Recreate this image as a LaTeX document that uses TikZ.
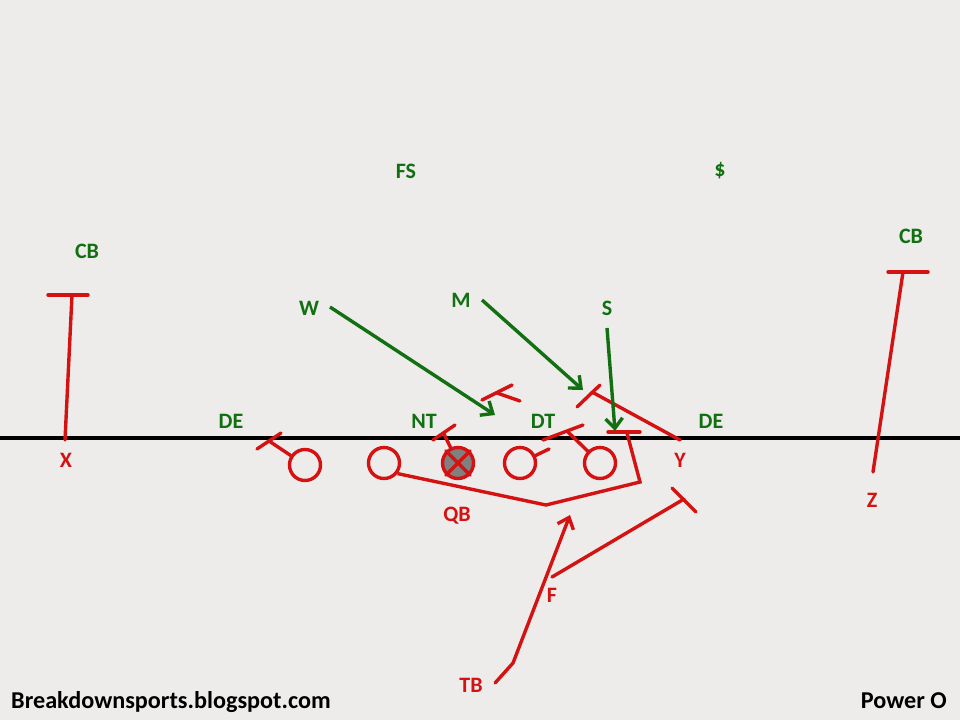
\documentclass[tikz,border=0pt]{standalone}
\usepackage{fontspec}
\setmainfont{Carlito}
\usetikzlibrary{arrows.meta}
\definecolor{bg}{RGB}{237,236,234}
\definecolor{pred}{RGB}{212,18,18}
\definecolor{dgreen}{RGB}{18,112,18}
\definecolor{cfill}{RGB}{128,128,128}
\begin{document}
\begin{tikzpicture}[x=1pt,y=-1pt,
  lbl/.style={font=\bfseries\fontsize{22}{23}\selectfont, inner sep=0pt},
  offl/.style={lbl, text=pred},
  defl/.style={lbl, text=dgreen},
  foot/.style={font=\bfseries\fontsize{24.2}{25}\selectfont, inner sep=0pt, anchor=base west, text=black},
  lineman/.style={circle, draw=pred, line width=3.4pt, minimum size=31pt, inner sep=0pt},
  route/.style={draw=pred, line width=3.4pt, line cap=round},
  redarrow/.style={route, -{Straight Barb[length=10pt,width=17pt,line width=3.4pt]}},
  greenarrow/.style={draw=dgreen, line width=3.4pt, -{Straight Barb[length=10pt,width=17pt,line width=3.4pt]}},
  los/.style={draw=black, line width=3.8pt}
]
\fill[bg] (0,0) rectangle (960,720);
\useasboundingbox (0,0) rectangle (960,720);

% line of scrimmage
\coordinate (losL) at (0,438);
\coordinate (losR) at (960,438);
\draw[los] (losL) -- (losR);

% offensive line
\node[lineman] (LT) at (305,465) {};
\node[lineman] (LG) at (384,463) {};
\node[lineman, fill=cfill] (C) at (458,463) {};
\node[lineman] (RG) at (520,463) {};
\node[lineman] (RT) at (600,463) {};
\draw[route] (C.north west) -- (C.south east);
\draw[route] (C.north east) -- (C.south west);

% defense labels
\node[defl] (FS) at (406,171) {FS};
\node[defl] (SS) at (720,171) {\$};
\node[defl] (CBL) at (87,251) {CB};
\node[defl] (CBR) at (911,236) {CB};
\node[defl] (W) at (309,308) {W};
\node[defl] (M) at (461,300) {M};
\node[defl] (S) at (607,308) {S};
\node[defl] (DEL) at (231,421) {DE};
\node[defl] (NT) at (424,421) {NT};
\node[defl] (DT) at (543,421) {DT};
\node[defl] (DER) at (711,421) {DE};

% offense labels
\node[offl] (X) at (66,460) {X};
\node[offl] (Y) at (680,460) {Y};
\node[offl] (QB) at (457,516) {QB};
\node[offl] (Z) at (872,500) {Z};
\node[offl] (F) at (552,595) {F};
\node[offl] (TB) at (471,685) {TB};

% footer
\node[foot] (site) at (11,708) {Breakdownsports.blogspot.com};
\node[foot, anchor=base east] (play) at (947,708) {Power O};

% LT block
\coordinate (ltB) at (269,441);
\coordinate (ltB1) at (257,449);
\coordinate (ltB2) at (281,433);
\draw[route] (LT) -- (ltB);
\draw[route] (ltB1) -- (ltB2);

% LG pull
\coordinate (p1) at (546,505);
\coordinate (p2) at (640,482);
\coordinate (pT) at (627,433);
\coordinate (pB1) at (608,432);
\coordinate (pB2) at (640,432);
\draw[route, line cap=butt] (LG.-38) -- (p1) -- (p2) -- (pT);
\draw[route] (pB1) -- (pB2);

% center block
\coordinate (cB) at (444,434);
\coordinate (cB1) at (433,440);
\coordinate (cB2) at (455,425);
\draw[route] (C) -- (cB);
\draw[route] (cB1) -- (cB2);

% RG stub and second level
\coordinate (rgS) at (549,449);
\draw[route] (RG) -- (rgS);
\coordinate (g2a) at (520,401);
\coordinate (g2b) at (497,393);
\coordinate (g2B1) at (482,400);
\coordinate (g2B2) at (512,385);
\draw[route] (g2a) -- (g2b);
\draw[route] (g2B1) -- (g2B2);

% RT block
\coordinate (rtB) at (568,432);
\coordinate (rtB1) at (543,440);
\coordinate (rtB2) at (583,425);
\draw[route] (RT) -- (rtB);
\draw[route] (rtB1) -- (rtB2);

% Y block
\coordinate (yS) at (680,440);
\coordinate (yB) at (592,392);
\coordinate (yB1) at (577,407);
\coordinate (yB2) at (600,385);
\draw[route] (yS) -- (yB);
\draw[route] (yB1) -- (yB2);

% X route
\coordinate (xS) at (65,440);
\coordinate (xT) at (72,295);
\coordinate (xB1) at (48,295);
\coordinate (xB2) at (88,295);
\draw[route] (xS) -- (xT);
\draw[route] (xB1) -- (xB2);

% Z route
\coordinate (zS) at (873,472);
\coordinate (zT) at (903,272);
\coordinate (zB1) at (888,272);
\coordinate (zB2) at (928,272);
\draw[route] (zS) -- (zT);
\draw[route] (zB1) -- (zB2);

% F block
\coordinate (fS) at (552,577);
\coordinate (fT) at (684,499);
\coordinate (fB1) at (672,488);
\coordinate (fB2) at (696,512);
\draw[route] (fS) -- (fT);
\draw[route] (fB1) -- (fB2);

% TB run
\coordinate (tbS) at (495,683);
\coordinate (tbK) at (513,663);
\coordinate (tbE) at (570,515);
\draw[redarrow] (tbS) -- (tbK) -- (tbE);

% linebacker arrows
\coordinate (wE) at (495,415);
\coordinate (mE) at (583,390);
\coordinate (sE) at (615,431);
\draw[greenarrow] (330,307) coordinate (wS) -- (wE);
\draw[greenarrow] (482,300) coordinate (mS) -- (mE);
\draw[greenarrow] (607,328) coordinate (sS) -- (sE);
\end{tikzpicture}
\end{document}
